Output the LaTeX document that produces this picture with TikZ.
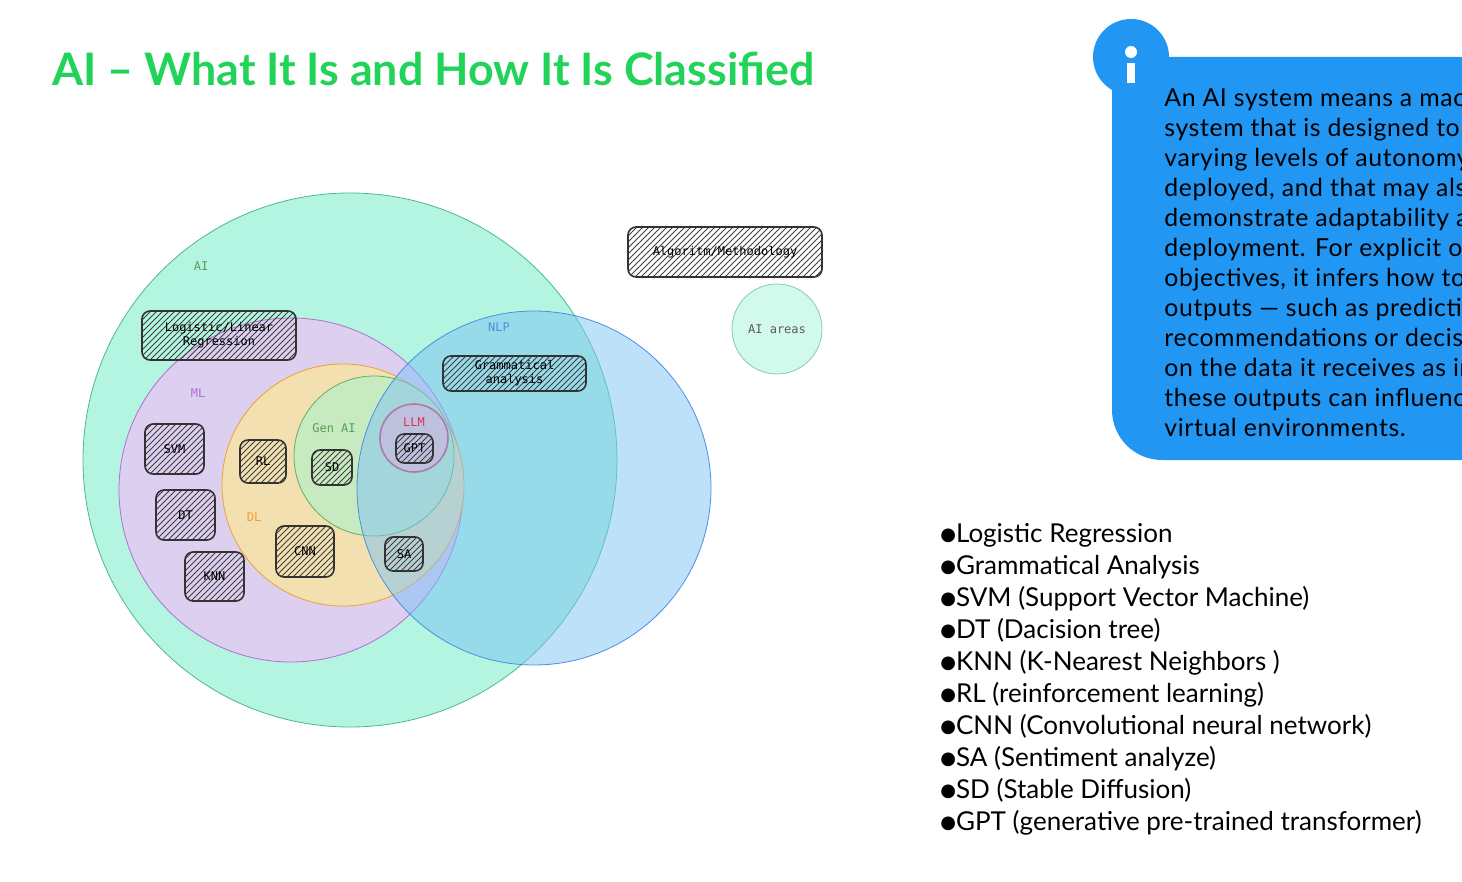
\documentclass[tikz,border=0pt]{standalone}
\usepackage{fontspec}
\setmainfont{Lato}
\newfontfamily\infof[LetterSpace=2.5]{Lato}
\newfontfamily\monof{DejaVu Sans Mono}
\newfontfamily\dejav{DejaVu Sans}
\usetikzlibrary{patterns}
\definecolor{aifill}{HTML}{B3F5E0}\definecolor{ailine}{HTML}{4DB88F}
\definecolor{mlfill}{HTML}{DCCFF0}\definecolor{mlline}{HTML}{B070D0}
\definecolor{dlfill}{HTML}{F3E0B0}\definecolor{dlline}{HTML}{F0A030}
\definecolor{gafill}{HTML}{C8EAC0}\definecolor{galine}{HTML}{60B060}
\definecolor{llfill}{HTML}{FFC0C8}\definecolor{llline}{HTML}{E0305A}
\definecolor{nlfill}{HTML}{7DC3F5}\definecolor{nlline}{HTML}{4A90E0}
\definecolor{infob}{HTML}{2196F3}\definecolor{ttl}{HTML}{22D35A}
\tikzset{
  hbox/.style={draw=black!80,thick,rounded corners=4pt,pattern=north east lines,pattern color=black!75,minimum width=#1,font=\monof\fontsize{6}{7}\selectfont,align=center,inner sep=1pt},
  lab/.style={font=\monof\fontsize{6}{7}\selectfont},
  itm/.style={anchor=base west,font=\fontsize{13}{15}\selectfont,inner sep=0}
}
\begin{document}
\begin{tikzpicture}[x=0.5pt,y=-0.5pt]
\useasboundingbox (0,0) rectangle (1462,882);
\clip (0,0) rectangle (1462,882);
\node[anchor=base west,inner sep=0,text=ttl,font=\bfseries\fontsize{22.4}{26}\selectfont] (title) at (52,86) {AI – What It Is and How It Is Classified};
% circles
\node[circle,draw=ailine,fill=aifill,minimum size=534pt*0.5,inner sep=0] (ai) at (350,460) {};
\node[circle,draw=mlline,fill=mlfill,minimum size=344pt*0.5,inner sep=0] (ml) at (291,490) {};
\node[circle,draw=dlline,fill=dlfill,minimum size=242pt*0.5,inner sep=0] (dl) at (343,485) {};
\node[circle,draw=galine,fill=gafill,minimum size=160pt*0.5,inner sep=0] (ga) at (374,456) {};
\node[circle,draw=llline,thick,fill=llfill,minimum size=68pt*0.5,inner sep=0] (llm) at (414,438) {};
\node[circle,draw=nlline,fill=nlfill,fill opacity=0.5,minimum size=354pt*0.5,inner sep=0] (nlp) at (534,488) {};
\node[circle,draw=ailine!70,fill=aifill!60,minimum size=90pt*0.5,inner sep=0] (areas) at (777,329) {};
\node[lab,text=black!65] at (areas) {AI areas};
% labels
\node[lab,text=galine!90!black] (lai) at (201,266) {AI};
\node[lab,text=mlline] (lml) at (198,393) {ML};
\node[lab,text=dlline] (ldl) at (254,517) {DL};
\node[lab,text=galine!90!black] (lga) at (334,428) {Gen AI};
\node[lab,text=llline] (lllm) at (414,422) {LLM};
\node[lab,text=nlline] (lnlp) at (499,327) {NLP};
% boxes
\node[hbox=77pt,minimum height=24.5pt] (lr) at (219,335.5) {Logistic/Linear\\Regression};
\node[hbox=71.5pt,minimum height=17.5pt] (gram) at (514.5,373.5) {Grammatical\\analysis};
\node[hbox=97pt,minimum height=25pt] (alg) at (725,252) {Algoritm/Methodology};
\node[hbox=29.5pt,minimum height=25pt] (svm) at (174.5,449) {SVM};
\node[hbox=29.5pt,minimum height=25pt] (dt) at (185.5,515) {DT};
\node[hbox=29.5pt,minimum height=24.5pt] (knn) at (214.5,576.5) {KNN};
\node[hbox=23pt,minimum height=21.5pt] (rl) at (263,461.5) {RL};
\node[hbox=20pt,minimum height=17.5pt] (sd) at (332,467.5) {SD};
\node[hbox=18.5pt,minimum height=14.5pt] (gpt) at (414.5,448.5) {GPT};
\node[hbox=29pt,minimum height=25.5pt] (cnn) at (305,551.5) {CNN};
\node[hbox=19pt,minimum height=17pt] (sa) at (404,554) {SA};
% info box
\fill[infob,rounded corners=25pt] (1112,57) rectangle (1520,460);
\fill[infob] (1131,57) circle (19pt);
\fill[infob] (1112,57) rectangle (1180,120);
\node[circle,fill=white,inner sep=0,minimum size=6pt] (idot) at (1131,52) {};
\fill[white] (1127,63) rectangle (1135,83);
\node[anchor=north west,align=left,inner sep=0,font=\infof\fontsize{12.4}{15}\selectfont] (infotext) at (1164,88) {An AI system means a mach\\system that is designed to o\\varying levels of autonomy\\deployed, and that may also\\demonstrate adaptability af\\deployment. For explicit or i\\objectives, it infers how to p\\outputs — such as predictio\\recommendations or decisio\\on the data it receives as in\\these outputs can influence\\virtual environments.};
% list
\foreach \t [count=\i] in {Logistic Regression,Grammatical Analysis,SVM (Support Vector Machine),DT (Dacision tree),KNN (K-Nearest Neighbors ),RL (reinforcement learning),CNN (Convolutional neural network),SA (Sentiment analyze),SD (Stable Diffusion),GPT (generative pre-trained transformer)}
  \node[itm] (li\i) at (940,{542+32*(\i-1)}) {\raisebox{1pt}{\dejav\fontsize{9}{12}\selectfont ●}\t};
\end{tikzpicture}
\end{document}
